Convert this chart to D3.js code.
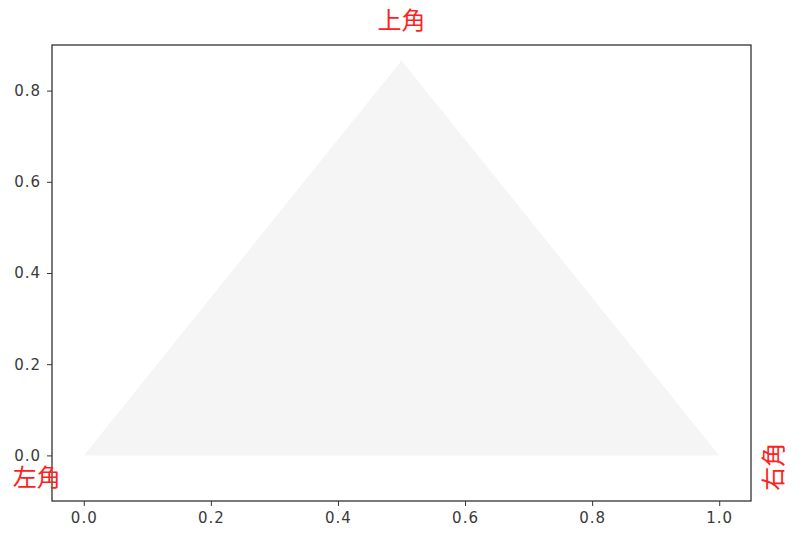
<!DOCTYPE html>
<html>
<head>
<meta charset="utf-8">
<script src="https://cdn.jsdelivr.net/npm/d3@7"></script>
<style>
  body { margin: 0; background: #fff; }
  svg { display: block; }
  .tick text { font-family: "DejaVu Sans", sans-serif; letter-spacing: 1px; }
</style>
</head>
<body>
<div id="chart"></div>
<script>
// triangle corners
const cornerX = [0, 1, 0.5];
const cornerY = [0, 0, Math.sqrt(3) / 2];

// corner labels and where they sit (data coords)
const labelText = ["左角", "右角", "上角"];
const labelX = [-0.074, 1.082, 0.5];
const labelY = [-0.044, -0.025, 0.958];
const labelRotate = [0, -90, 0];

const xTicks = [0.0, 0.2, 0.4, 0.6, 0.8, 1.0];
const yTicks = [0.0, 0.2, 0.4, 0.6, 0.8];

const width = 803, height = 536;
const margin = { left: 52, right: 52, top: 45, bottom: 35 };

const svg = d3.select("#chart").append("svg")
    .attr("width", width)
    .attr("height", height);

const x = d3.scaleLinear()
    .domain([-0.05, 1.05])
    .range([margin.left, width - margin.right]);

const y = d3.scaleLinear()
    .domain([-0.1, 0.9])
    .range([height - margin.bottom, margin.top]);

// filled triangle
const pts = cornerX.map((d, i) => [x(d), y(cornerY[i])]);
svg.append("path")
    .attr("d", d3.line()(pts) + "Z")
    .attr("fill", "#f5f5f5");

// axes
const xAxis = svg.append("g")
    .attr("transform", `translate(0,${height - margin.bottom})`)
    .call(d3.axisBottom(x).tickValues(xTicks).tickFormat(d3.format(".1f")).tickSize(5).tickPadding(6));

const yAxis = svg.append("g")
    .attr("transform", `translate(${margin.left},0)`)
    .call(d3.axisLeft(y).tickValues(yTicks).tickFormat(d3.format(".1f")).tickSize(5).tickPadding(6));

[xAxis, yAxis].forEach(g => {
    g.select(".domain").remove();
    g.selectAll(".tick line").attr("stroke", "#333").attr("stroke-width", 1);
    g.selectAll(".tick text").attr("fill", "#3a3a3a").style("font-size", "15px");
});

// frame
svg.append("rect")
    .attr("x", x(-0.05))
    .attr("y", y(0.9))
    .attr("width", x(1.05) - x(-0.05))
    .attr("height", y(-0.1) - y(0.9))
    .attr("fill", "none")
    .attr("stroke", "#333")
    .attr("stroke-width", 1.3);

// corner labels
svg.selectAll(".corner")
    .data(labelText)
    .enter().append("text")
    .attr("class", "corner")
    .attr("transform", (d, i) => `translate(${x(labelX[i])},${y(labelY[i])}) rotate(${labelRotate[i]})`)
    .attr("text-anchor", "middle")
    .attr("dominant-baseline", "central")
    .style("font-family", '"Noto Sans CJK JP", sans-serif')
    .style("font-size", "24px")
    .attr("fill", "#ff2020")
    .text(d => d);
</script>
</body>
</html>
